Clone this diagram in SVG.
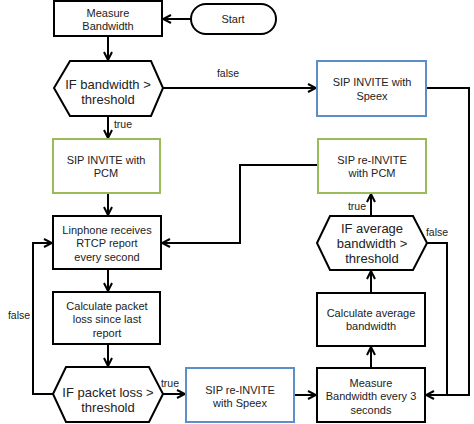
<svg xmlns="http://www.w3.org/2000/svg" width="474" height="424" viewBox="0 0 474 424">
<style>
.box{fill:#fff;stroke:#000;stroke-width:2}
.green{fill:#fff;stroke:#9bbb59;stroke-width:2}
.blue{fill:#fff;stroke:#5b8fc9;stroke-width:2}
.t{font-family:"Liberation Sans",Arial,sans-serif;font-size:11px;fill:#222;text-anchor:middle}
.h{font-family:"Liberation Sans",Arial,sans-serif;font-size:13px;fill:#222;text-anchor:middle}
.l{font-family:"Liberation Sans",Arial,sans-serif;font-size:10.5px;fill:#222;text-anchor:middle}
.c{fill:none;stroke:#000;stroke-width:2}
.a{marker-end:url(#arr)}
</style>
<defs>
<marker id="arr" viewBox="0 0 10 10" refX="9" refY="5" markerWidth="10" markerHeight="10" markerUnits="userSpaceOnUse" orient="auto">
<path d="M1,1 L9,5 L1,9" fill="none" stroke="#000" stroke-width="2"/>
</marker>
</defs>
<rect width="474" height="424" fill="#fff"/>
<g id="connectors">
<line class="c a" x1="191" y1="19" x2="163" y2="19"/>
<line class="c a" x1="108" y1="36" x2="108" y2="60"/>
<line class="c a" x1="108" y1="116" x2="108" y2="138"/>
<line class="c a" x1="163" y1="88" x2="316" y2="88"/>
<line class="c a" x1="108" y1="193" x2="108" y2="215"/>
<line class="c a" x1="108" y1="269" x2="108" y2="291"/>
<line class="c a" x1="108" y1="344" x2="108" y2="366"/>
<polyline class="c a" points="53,394 33,394 33,243 52,243"/>
<line class="c a" x1="163" y1="394" x2="185" y2="394"/>
<line class="c a" x1="294" y1="395" x2="316" y2="395"/>
<line class="c a" x1="371" y1="368" x2="371" y2="347"/>
<line class="c a" x1="371" y1="293" x2="371" y2="271"/>
<line class="c a" x1="371" y1="216" x2="371" y2="194"/>
<polyline class="c a" points="318,165 240,165 240,243 162,243"/>
<polyline class="c" points="427,243 447,243 447,395"/>
<polyline class="c a" points="426,88 469,88 469,395 426,395"/>
<text class="l" x="228" y="77">false</text>
<text class="l" x="123" y="128">true</text>
<text class="l" x="19" y="319">false</text>
<text class="l" x="170" y="387">true</text>
<text class="l" x="357" y="210">true</text>
<text class="l" x="437" y="236">false</text>
</g>
<g id="measure">
<rect class="box" x="54" y="1" width="108" height="35"/>
<text class="t" x="108" y="17">Measure</text>
<text class="t" x="108" y="30">Bandwidth</text>
</g>
<g id="start">
<rect class="box" x="191" y="4" width="85" height="30" rx="15"/>
<text class="t" x="233" y="23">Start</text>
</g>
<g id="if-bandwidth">
<polygon class="box" points="54,88 70,61 151,61 163,88 151,116 70,116"/>
<text class="h" x="108" y="89">IF bandwidth &gt;</text>
<text class="h" x="108" y="104">threshold</text>
</g>
<g id="sip-speex">
<rect class="blue" x="317" y="61" width="109" height="55"/>
<text class="t" x="372" y="86">SIP INVITE with</text>
<text class="t" x="372" y="100">Speex</text>
</g>
<g id="sip-pcm">
<rect class="green" x="53" y="139" width="107" height="54"/>
<text class="t" x="106" y="164">SIP INVITE with</text>
<text class="t" x="106" y="177">PCM</text>
</g>
<g id="linphone">
<rect class="box" x="53" y="216" width="108" height="53"/>
<text class="t" x="107" y="234">Linphone receives</text>
<text class="t" x="107" y="247">RTCP report</text>
<text class="t" x="107" y="261">every second</text>
</g>
<g id="calc-loss">
<rect class="box" x="53" y="292" width="107" height="52"/>
<text class="t" x="107" y="310">Calculate packet</text>
<text class="t" x="107" y="323">loss since last</text>
<text class="t" x="107" y="337">report</text>
</g>
<g id="if-loss">
<polygon class="box" points="53,394 66,367 149,367 163,394 149,422 66,422"/>
<text class="h" x="108" y="397">IF packet loss &gt;</text>
<text class="h" x="108" y="412">threshold</text>
</g>
<g id="sip-reinvite-speex">
<rect class="blue" x="186" y="368" width="108" height="54"/>
<text class="t" x="240" y="394">SIP re-INVITE</text>
<text class="t" x="240" y="407">with Speex</text>
</g>
<g id="measure-3s">
<rect class="box" x="317" y="368" width="108" height="54"/>
<text class="t" x="371" y="387">Measure</text>
<text class="t" x="371" y="400">Bandwidth every 3</text>
<text class="t" x="371" y="414">seconds</text>
</g>
<g id="calc-avg">
<rect class="box" x="317" y="293" width="108" height="53"/>
<text class="t" x="371" y="317">Calculate average</text>
<text class="t" x="371" y="330">bandwidth</text>
</g>
<g id="if-avg">
<polygon class="box" points="317,243 330,216 413,216 427,243 413,270 330,270"/>
<text class="h" x="372" y="233">IF average</text>
<text class="h" x="372" y="248">bandwidth &gt;</text>
<text class="h" x="372" y="263">threshold</text>
</g>
<g id="sip-reinvite-pcm">
<rect class="green" x="318" y="139" width="108" height="54"/>
<text class="t" x="372" y="164">SIP re-INVITE</text>
<text class="t" x="372" y="177">with PCM</text>
</g>
</svg>
